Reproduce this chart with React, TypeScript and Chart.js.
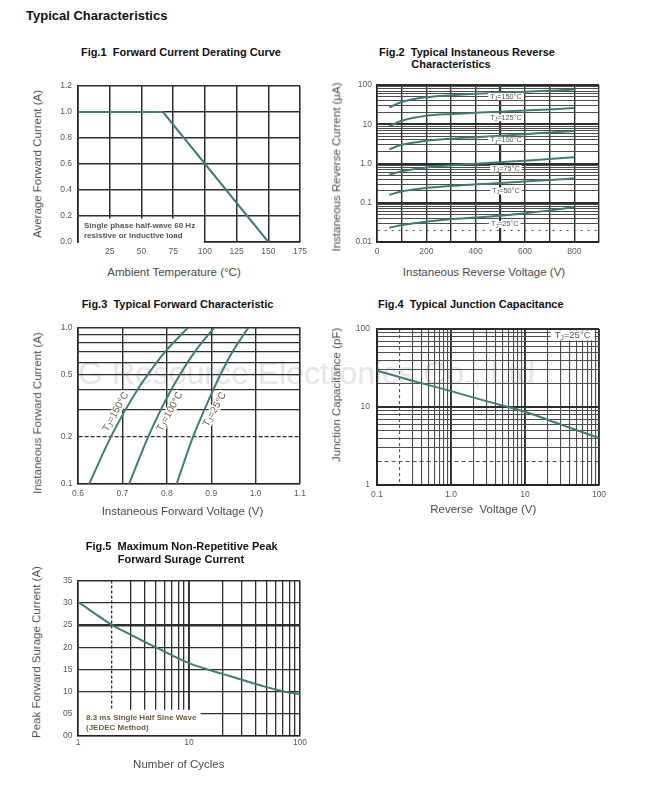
import React, { useEffect, useRef } from 'react';
import { Chart, registerables } from 'chart.js';

Chart.register(...registerables);

const FONT = "'Liberation Sans', Arial, Helvetica, sans-serif";
const CURVE = '#3d7c7a';
const GRID = '#2e2e2e';
const GRID_MINOR = '#4d4d4d';
const TICK_COLOR = '#5a5a5a';
const TITLE_COLOR = '#4a4a4a';
const NOTE_GREY = '#555555';
const NOTE_BROWN = '#6e5e3e';

// ---------------- Fig.1 Forward Current Derating Curve ----------------
const fig1Temp = [0, 67, 150];
const fig1Current = [1.0, 1.0, 0.0];
const fig1XTicks = [0, 25, 50, 75, 100, 125, 150, 175];
const fig1XLabelVals = [25, 50, 75, 100, 125, 150, 175];
const fig1XLabelText = ['25', '50', '75', '100', '125', '150', '175'];
const fig1YTicks = [0, 0.2, 0.4, 0.6, 0.8, 1.0, 1.2];
const fig1YLabelText = ['0.0', '0.2', '0.4', '0.6', '0.8', '1.0', '1.2'];
const fig1Note = ['Single phase half-wave 60 Hz', 'resistive or inductive load'];
const fig1NoteBox = { x0: 0, x1: 100, yTop: 0.18 };

// ---------------- Fig.2 Typical Instaneous Reverse Characteristics ----------------
const fig2Voltage = [50, 100, 200, 300, 400, 500, 600, 700, 800];
const fig2Tj150 = [27, 37, 49, 55, 60, 64, 68, 72, 77];
const fig2Tj125 = [9, 12.3, 16.5, 18.3, 19.6, 21, 22.5, 24, 26];
const fig2Tj100 = [2.3, 3.0, 3.8, 4.3, 4.7, 5.1, 5.6, 6.2, 6.8];
const fig2Tj75 = [0.52, 0.64, 0.79, 0.9, 0.99, 1.08, 1.18, 1.3, 1.45];
const fig2Tj50 = [0.16, 0.195, 0.24, 0.27, 0.295, 0.32, 0.35, 0.38, 0.42];
const fig2Tj25 = [0.023, 0.027, 0.033, 0.038, 0.042, 0.047, 0.054, 0.064, 0.078];
const fig2Temps = ['150', '125', '100', '75', '50', '25'];
const fig2LabelV = [523, 523, 523, 523, 523, 518];
const fig2LabelI = [51, 14.7, 3.9, 0.74, 0.2, 0.028];
const fig2XTicks = [0, 100, 200, 300, 400, 500, 600, 700, 800, 900];
const fig2XLabelVals = [0, 200, 400, 600, 800];
const fig2XLabelText = ['0', '200', '400', '600', '800'];
const fig2Decades = [0.01, 0.1, 1, 10, 100];
const fig2DecadeText = ['0.01', '0.1', '1.0', '10', '100'];

// ---------------- Fig.3 Typical Forward Characteristic ----------------
const fig3Current = [0.1, 0.2, 0.3, 0.4, 0.5, 0.7, 1.0];
const fig3Tj150V = [0.625, 0.674, 0.7075, 0.734, 0.757, 0.796, 0.848];
const fig3Tj100V = [0.715, 0.758, 0.787, 0.81, 0.8295, 0.863, 0.907];
const fig3Tj25V = [0.822, 0.859, 0.885, 0.9046, 0.9207, 0.948, 0.9835];
const fig3Temps = ['150', '100', '25'];
const fig3LabelV = [0.685, 0.807, 0.908];
const fig3LabelI = [0.289, 0.29, 0.3];
const fig3XTicks = [0.6, 0.7, 0.8, 0.9, 1.0, 1.1];
const fig3XLabelText = ['0.6', '0.7', '0.8', '0.9', '1.0', '1.1'];
const fig3Decades = [0.1, 1.0];
const fig3YLabelVals = [0.1, 0.2, 0.5, 1.0];
const fig3YLabelText = ['0.1', '0.2', '0.5', '1.0'];

// ---------------- Fig.4 Typical Junction Capacitance ----------------
const fig4Voltage = [0.1, 0.3, 1, 3, 10, 30, 100];
const fig4Cap = [29.3, 21.8, 16, 11.9, 8.7, 6.0, 4.0];
const fig4XDecades = [0.1, 1, 10, 100];
const fig4XDecadeText = ['0.1', '1.0', '10', '100'];
const fig4YDecades = [1, 10, 100];
const fig4YDecadeText = ['1', '10', '100'];
const fig4Label = { v: 44, c: 83, temp: '25' };

// ---------------- Fig.5 Maximum Non-Repetitive Peak Forward Surge Current ----------------
const fig5Cycles = [1, 2, 3, 5, 10, 20, 50, 70, 100];
const fig5Current = [30.2, 25.1, 22.8, 20.0, 16.4, 14.0, 11.0, 10.1, 9.4];
const fig5XDecades = [1, 10, 100];
const fig5XDecadeText = ['1', '10', '100'];
const fig5YTicks = [0, 5, 10, 15, 20, 25, 30, 35];
const fig5YLabelText = ['00', '05', '10', '15', '20', '25', '30', '35'];
const fig5Note = ['8.3 ms Single Half Sine Wave', '(JEDEC Method)'];
const fig5NoteBox = { x0: 1, x1: 13, yTop: 5.9 };

// ---------------- helpers ----------------
const LOG_MANT = [1, 2, 3, 4, 5, 6, 7, 8, 9];
function logTicks(decades: number[]): number[] {
  const out: number[] = [];
  for (let i = 0; i < decades.length - 1; i++) {
    for (const m of LOG_MANT) out.push(Number((m * decades[i]).toPrecision(6)));
  }
  out.push(decades[decades.length - 1]);
  return out;
}
const near = (a: number, b: number) => Math.abs(a - b) <= 1e-6 * Math.max(1, Math.abs(a), Math.abs(b));
const inList = (list: number[], v: number) => list.some((t) => near(t, v));
const labelFrom = (vals: number[], texts: string[]) => (v: number) => {
  const i = vals.findIndex((t) => near(t, v));
  return i >= 0 ? texts[i] : '';
};

type AxisOpts = {
  type: 'linear' | 'logarithmic';
  position: 'left' | 'bottom';
  min: number;
  max: number;
  ticks: number[];
  label: (v: number) => string;
  pad: number;
  size: number;
  width: (v: number) => number;
  color?: (v: number) => string;
  dotted?: number[];
  dash?: number[];
};

function makeAxis(o: AxisOpts) {
  return {
    type: o.type,
    position: o.position,
    min: o.min,
    max: o.max,
    afterBuildTicks: (scale: any) => {
      scale.ticks = o.ticks.map((v) => ({ value: v }));
    },
    afterFit: (scale: any) => {
      if (o.position === 'left') scale.width = o.size;
      else scale.height = o.size;
    },
    ticks: {
      autoSkip: false,
      maxRotation: 0,
      minRotation: 0,
      padding: o.pad,
      color: TICK_COLOR,
      font: { family: FONT, size: 8.5 },
      callback: (value: any) => o.label(Number(value)),
    },
    grid: {
      drawTicks: false,
      color: (c: any) => (c.tick && o.color ? o.color(c.tick.value) : GRID),
      lineWidth: (c: any) => (c.tick ? o.width(c.tick.value) : 1.4),
    },
    border: {
      display: true,
      color: '#222222',
      width: 1.6,
      dash: (c: any) => (c.tick && o.dotted && inList(o.dotted, c.tick.value) ? o.dash || [2, 4] : []),
    },
  };
}

function curve(xs: number[], ys: number[], smooth = true) {
  return {
    data: xs.map((x, i) => ({ x, y: ys[i] })),
    borderColor: CURVE,
    borderWidth: 2,
    pointRadius: 0,
    fill: false,
    tension: smooth ? 0.4 : 0,
    cubicInterpolationMode: smooth ? 'monotone' : 'default',
  };
}

function baseOptions(x: any, y: any) {
  return {
    responsive: false,
    animation: false,
    devicePixelRatio: 1,
    events: [],
    layout: { padding: { left: 0, top: 8, right: 14, bottom: 0 } },
    plugins: { legend: { display: false }, tooltip: { enabled: false }, title: { display: false } },
    scales: { x, y },
  };
}

function drawTj(
  ctx: CanvasRenderingContext2D,
  cx: number,
  cy: number,
  temp: string,
  size: number,
  color: string,
  angle: number,
  boxH: number,
  extraW: number,
) {
  ctx.save();
  ctx.translate(cx, cy);
  ctx.rotate(angle);
  const big = `${size}px ${FONT}`;
  const small = `${(size * 0.7).toFixed(2)}px ${FONT}`;
  const rest = `=${temp}°C`;
  ctx.font = big;
  const wT = ctx.measureText('T').width;
  const wR = ctx.measureText(rest).width;
  ctx.font = small;
  const wJ = ctx.measureText('J').width;
  const total = wT + wJ + wR;
  const w = total + extraW;
  ctx.fillStyle = '#ffffff';
  ctx.fillRect(-w / 2, -boxH / 2, w, boxH);
  ctx.fillStyle = color;
  ctx.textBaseline = 'middle';
  ctx.textAlign = 'left';
  let x = -total / 2;
  ctx.font = big;
  ctx.fillText('T', x, 0);
  x += wT;
  ctx.font = small;
  ctx.fillText('J', x, size * 0.25);
  x += wJ;
  ctx.font = big;
  ctx.fillText(rest, x, 0);
  ctx.restore();
}

function drawNote(
  chart: any,
  box: { x0: number; x1: number; yTop: number },
  lines: string[],
  color: string,
  coverBottom: boolean,
  textDx: number,
  textDy: number[],
) {
  const { ctx, scales } = chart;
  const l = scales.x.getPixelForValue(box.x0) + 1;
  const r = scales.x.getPixelForValue(box.x1) - 1;
  const t = scales.y.getPixelForValue(box.yTop);
  const b = chart.chartArea.bottom + (coverBottom ? 2 : -1);
  ctx.save();
  ctx.fillStyle = '#ffffff';
  ctx.fillRect(l, t, r - l, b - t);
  ctx.fillStyle = color;
  ctx.font = `bold 8px ${FONT}`;
  ctx.textBaseline = 'middle';
  ctx.textAlign = 'left';
  lines.forEach((s, i) => ctx.fillText(s, l + textDx, t + textDy[i]));
  ctx.restore();
}

// ---------------- chart configs ----------------
function fig1Config() {
  const x = makeAxis({
    type: 'linear', position: 'bottom', min: 0, max: 175, ticks: fig1XTicks,
    label: labelFrom(fig1XLabelVals, fig1XLabelText), pad: 5, size: 22,
    width: (v) => (v === 175 ? 1.6 : 1.5),
  });
  const y = makeAxis({
    type: 'linear', position: 'left', min: 0, max: 1.2, ticks: fig1YTicks,
    label: labelFrom(fig1YTicks, fig1YLabelText), pad: 6, size: 40,
    width: (v) => (near(v, 1.2) ? 1.6 : 1.5),
  });
  return {
    type: 'line',
    data: { datasets: [curve(fig1Temp, fig1Current, false)] },
    options: baseOptions(x, y),
    plugins: [
      {
        id: 'fig1Note',
        afterDraw: (chart: any) => drawNote(chart, fig1NoteBox, fig1Note, NOTE_GREY, true, 5, [7.5, 17.5]),
      },
    ],
  };
}

function fig2Config() {
  const x = makeAxis({
    type: 'linear', position: 'bottom', min: 0, max: 900, ticks: fig2XTicks,
    label: labelFrom(fig2XLabelVals, fig2XLabelText), pad: 5, size: 22,
    width: (v) => (v === 500 ? 2.2 : 1.4),
  });
  const y = makeAxis({
    type: 'logarithmic', position: 'left', min: 0.01, max: 100, ticks: logTicks(fig2Decades),
    label: labelFrom(fig2Decades, fig2DecadeText), pad: 5, size: 40,
    width: (v) => (inList(fig2Decades, v) ? 1.9 : 1),
    color: (v) => (inList(fig2Decades, v) ? GRID : GRID_MINOR),
    dotted: [0.02], dash: [2, 5],
  });
  const series = [fig2Tj150, fig2Tj125, fig2Tj100, fig2Tj75, fig2Tj50, fig2Tj25];
  return {
    type: 'line',
    data: { datasets: series.map((s) => curve(fig2Voltage, s)) },
    options: baseOptions(x, y),
    plugins: [
      {
        id: 'fig2Labels',
        afterDraw: (chart: any) => {
          const { ctx, scales } = chart;
          fig2Temps.forEach((t, i) => {
            drawTj(ctx, scales.x.getPixelForValue(fig2LabelV[i]), scales.y.getPixelForValue(fig2LabelI[i]), t, 7.3, '#555555', 0, 7, 4);
          });
        },
      },
    ],
  };
}

function fig3Config() {
  const x = makeAxis({
    type: 'linear', position: 'bottom', min: 0.6, max: 1.1, ticks: fig3XTicks,
    label: labelFrom(fig3XTicks, fig3XLabelText), pad: 5, size: 22,
    width: (v) => (near(v, 1.1) ? 1.6 : 1.4),
  });
  const y = makeAxis({
    type: 'logarithmic', position: 'left', min: 0.1, max: 1.0, ticks: logTicks(fig3Decades),
    label: labelFrom(fig3YLabelVals, fig3YLabelText), pad: 5.5, size: 40,
    width: (v) => (near(v, 1.0) ? 1.6 : 1.3),
    dotted: [0.2], dash: [4, 2],
  });
  return {
    type: 'line',
    data: {
      datasets: [
        curve(fig3Tj150V, fig3Current),
        curve(fig3Tj100V, fig3Current),
        curve(fig3Tj25V, fig3Current),
      ],
    },
    options: baseOptions(x, y),
    plugins: [
      {
        id: 'fig3Labels',
        afterDraw: (chart: any) => {
          const { ctx, scales } = chart;
          fig3Temps.forEach((t, i) => {
            drawTj(ctx, scales.x.getPixelForValue(fig3LabelV[i]), scales.y.getPixelForValue(fig3LabelI[i]), t, 10, NOTE_BROWN, (-61 * Math.PI) / 180, 10, 2);
          });
        },
      },
    ],
  };
}

function fig4Config() {
  const x = makeAxis({
    type: 'logarithmic', position: 'bottom', min: 0.1, max: 100, ticks: logTicks(fig4XDecades),
    label: labelFrom(fig4XDecades, fig4XDecadeText), pad: 5, size: 22,
    width: (v) => (inList(fig4XDecades, v) ? 1.9 : 1.1),
    color: (v) => (inList(fig4XDecades, v) ? GRID : GRID_MINOR),
    dotted: [0.2], dash: [3, 3],
  });
  const y = makeAxis({
    type: 'logarithmic', position: 'left', min: 1, max: 100, ticks: logTicks(fig4YDecades),
    label: labelFrom(fig4YDecades, fig4YDecadeText), pad: 7, size: 40,
    width: (v) => (inList(fig4YDecades, v) ? 1.9 : 1.1),
    color: (v) => (inList(fig4YDecades, v) ? GRID : GRID_MINOR),
    dotted: [2], dash: [4, 3],
  });
  return {
    type: 'line',
    data: { datasets: [curve(fig4Voltage, fig4Cap)] },
    options: baseOptions(x, y),
    plugins: [
      {
        id: 'fig4Label',
        afterDraw: (chart: any) => {
          const { ctx, scales } = chart;
          drawTj(ctx, scales.x.getPixelForValue(fig4Label.v), scales.y.getPixelForValue(fig4Label.c), fig4Label.temp, 9.5, '#555555', 0, 10, 8);
        },
      },
    ],
  };
}

function fig5Config() {
  const x = makeAxis({
    type: 'logarithmic', position: 'bottom', min: 1, max: 100, ticks: logTicks(fig5XDecades),
    label: labelFrom(fig5XDecades, fig5XDecadeText), pad: 2, size: 22,
    width: (v) => (near(v, 10) ? 1.9 : near(v, 100) ? 1.6 : 1.3),
    dotted: [2], dash: [3, 2],
  });
  const y = makeAxis({
    type: 'linear', position: 'left', min: 0, max: 35, ticks: fig5YTicks,
    label: labelFrom(fig5YTicks, fig5YLabelText), pad: 5.5, size: 40,
    width: (v) => (v === 25 ? 2.4 : v === 35 ? 1.6 : 1.3),
  });
  return {
    type: 'line',
    data: { datasets: [curve(fig5Cycles, fig5Current)] },
    options: baseOptions(x, y),
    plugins: [
      {
        id: 'fig5Note',
        afterDraw: (chart: any) => drawNote(chart, fig5NoteBox, fig5Note, NOTE_BROWN, false, 7, [8.3, 18]),
      },
    ],
  };
}

// ---------------- components ----------------
function ChartBox({ left, top, width, height, make }: { left: number; top: number; width: number; height: number; make: () => any }) {
  const ref = useRef<HTMLCanvasElement>(null);
  useEffect(() => {
    if (!ref.current) return;
    const chart = new Chart(ref.current, make());
    return () => chart.destroy();
  }, []);
  return (
    <canvas
      ref={ref}
      width={width}
      height={height}
      style={{ position: 'absolute', left, top, width, height, display: 'block' }}
    />
  );
}

function Txt({
  x, y, text, size, bold = false, color = '#111', rotate = 0, start = false,
}: { x: number; y: number; text: React.ReactNode; size: number; bold?: boolean; color?: string; rotate?: number; start?: boolean }) {
  return (
    <div
      style={{
        position: 'absolute',
        left: x,
        top: y,
        whiteSpace: 'nowrap',
        fontFamily: FONT,
        fontSize: size,
        fontWeight: bold ? 'bold' : 'normal',
        color,
        lineHeight: 1,
        transform: `translate(${start ? '0' : '-50%'}, -50%)${rotate ? ` rotate(${rotate}deg)` : ''}`,
      }}
    >
      {text}
    </div>
  );
}

export default function App() {
  return (
    <div style={{ position: 'absolute', left: 0, top: 0, width: 650, height: 791, background: '#ffffff', overflow: 'hidden' }}>
      {/* watermark */}
      <Txt x={78} y={373} text="G Resource Electronics Co., Ltd" size={32} color="#e6e6e6" start />

      <Txt x={26} y={15} text="Typical Characteristics" size={13} bold start />

      {/* Fig.1 */}
      <Txt x={181} y={52.3} text={'Fig.1\u00a0\u00a0Forward Current Derating Curve'} size={11} bold />
      <ChartBox left={38} top={75} width={276} height={189} make={fig1Config} />
      <Txt x={37.5} y={164} text="Average Forward Current (A)" size={11.5} color={TITLE_COLOR} rotate={-90} />
      <Txt x={174} y={273} text="Ambient Temperature (°C)" size={11.5} color={TITLE_COLOR} />

      {/* Fig.2 */}
      <Txt x={467} y={52} text={'Fig.2\u00a0\u00a0Typical Instaneous Reverse'} size={11} bold />
      <Txt x={451} y={64} text="Characteristics" size={11} bold />
      <ChartBox left={337} top={75} width={276} height={189} make={fig2Config} />
      <Txt x={336.7} y={166.7} text="Instaneous Reverse Current (μA)" size={11.5} color={TITLE_COLOR} rotate={-90} />
      <Txt x={484} y={272.5} text="Instaneous Reverse Voltage (V)" size={11.5} color={TITLE_COLOR} />

      {/* Fig.3 */}
      <Txt x={177.5} y={304} text={'Fig.3\u00a0\u00a0Typical Forward Characteristic'} size={11} bold />
      <ChartBox left={38} top={317} width={276} height={189} make={fig3Config} />
      <Txt x={38} y={413} text="Instaneous Forward Current (A)" size={11.5} color={TITLE_COLOR} rotate={-90} />
      <Txt x={182.5} y={511.7} text="Instaneous Forward Voltage (V)" size={11.5} color={TITLE_COLOR} />

      {/* Fig.4 */}
      <Txt x={470.8} y={304} text={'Fig.4\u00a0\u00a0Typical Junction Capacitance'} size={11} bold />
      <ChartBox left={337} top={317} width={276} height={190} make={fig4Config} />
      <Txt x={336.7} y={395} text="Junction Capacitance (pF)" size={11.5} color={TITLE_COLOR} rotate={-90} />
      <Txt x={483.3} y={509.5} text={'Reverse\u00a0\u00a0Voltage (V)'} size={11.5} color={TITLE_COLOR} />

      {/* Fig.5 */}
      <Txt x={181.7} y={545.5} text={'Fig.5\u00a0\u00a0Maximum Non-Repetitive Peak'} size={11} bold />
      <Txt x={181} y={558.8} text="Forward Surage Current" size={11} bold />
      <ChartBox left={38} top={570} width={276} height={188} make={fig5Config} />
      <Txt x={36.7} y={651.7} text="Peak Forward Surage Current (A)" size={11.5} color={TITLE_COLOR} rotate={-90} />
      <Txt x={178.8} y={765} text="Number of Cycles" size={11.5} color={TITLE_COLOR} />
    </div>
  );
}
